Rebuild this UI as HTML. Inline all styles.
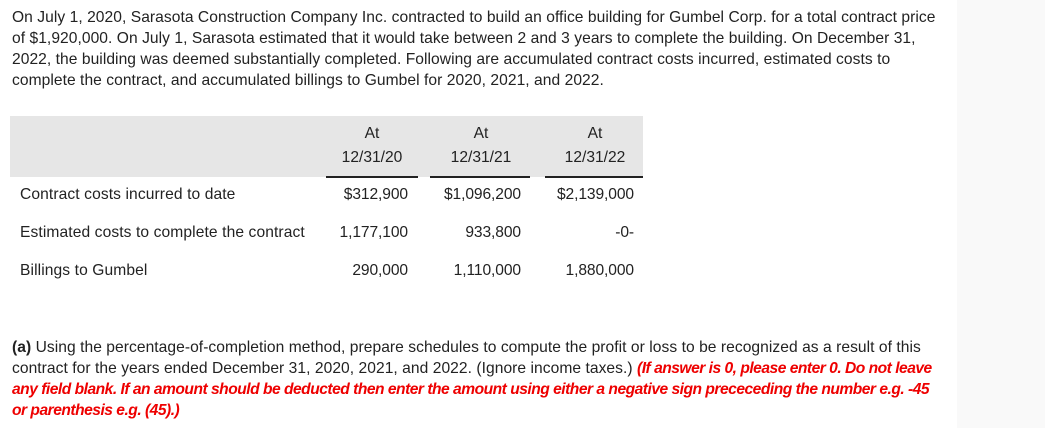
<!DOCTYPE html>
<html><head><style>
body{margin:0;width:1045px;height:428px;background:#fff;font-family:"Liberation Sans",sans-serif;color:#222;position:relative;overflow:hidden}
.side{position:absolute;left:957px;top:0;width:88px;height:428px;background:#f9f9f9}
p{position:absolute;left:12px;margin:0;font-size:15.6px;line-height:21px;white-space:nowrap;letter-spacing:0.05px}
.red{color:#e00;font-weight:bold;font-style:italic;letter-spacing:-0.5px}
.gray{position:absolute;left:10px;top:116px;width:633px;height:61px;background:#e6e6e6}
.h{position:absolute;text-align:center;font-size:15.6px;line-height:24px;width:100px;top:122px}
.ln{position:absolute;top:176px;height:2px;background:#222}
.lab{position:absolute;left:20px;font-size:15.6px;letter-spacing:0.1px}
.v{position:absolute;font-size:15.6px;text-align:right;width:120px;letter-spacing:-0.1px}
</style></head><body>
<div class="side"></div>
<p style="top:7px">On July 1, 2020, Sarasota Construction Company Inc. contracted to build an office building for Gumbel Corp. for a total contract price<br>of $1,920,000. On July 1, Sarasota estimated that it would take between 2 and 3 years to complete the building. On December 31,<br>2022, the building was deemed substantially completed. Following are accumulated contract costs incurred, estimated costs to<br>complete the contract, and accumulated billings to Gumbel for 2020, 2021, and 2022.</p>
<div class="gray"></div>
<div class="h" style="left:322px">At<br>12/31/20</div>
<div class="h" style="left:431px">At<br>12/31/21</div>
<div class="h" style="left:545px">At<br>12/31/22</div>
<div class="ln" style="left:326px;width:92px"></div>
<div class="ln" style="left:430px;width:100px"></div>
<div class="ln" style="left:545px;width:98px"></div>
<div class="lab" style="top:186px">Contract costs incurred to date</div>
<div class="lab" style="top:224px">Estimated costs to complete the contract</div>
<div class="lab" style="top:262px">Billings to Gumbel</div>
<div class="v" style="left:288px;top:186px">$312,900</div>
<div class="v" style="left:401px;top:186px">$1,096,200</div>
<div class="v" style="left:514px;top:186px">$2,139,000</div>
<div class="v" style="left:288px;top:224px">1,177,100</div>
<div class="v" style="left:401px;top:224px">933,800</div>
<div class="v" style="left:514px;top:224px">-0-</div>
<div class="v" style="left:288px;top:262px">290,000</div>
<div class="v" style="left:401px;top:262px">1,110,000</div>
<div class="v" style="left:514px;top:262px">1,880,000</div>
<p style="top:337px"><b>(a)</b> Using the percentage-of-completion method, prepare schedules to compute the profit or loss to be recognized as a result of this<br>contract for the years ended December 31, 2020, 2021, and 2022. (Ignore income taxes.) <span class="red">(If answer is 0, please enter 0. Do not leave<br>any field blank. If an amount should be deducted then enter the amount using either a negative sign prececeding the number e.g. -45<br>or parenthesis e.g. (45).)</span></p>
</body></html>
